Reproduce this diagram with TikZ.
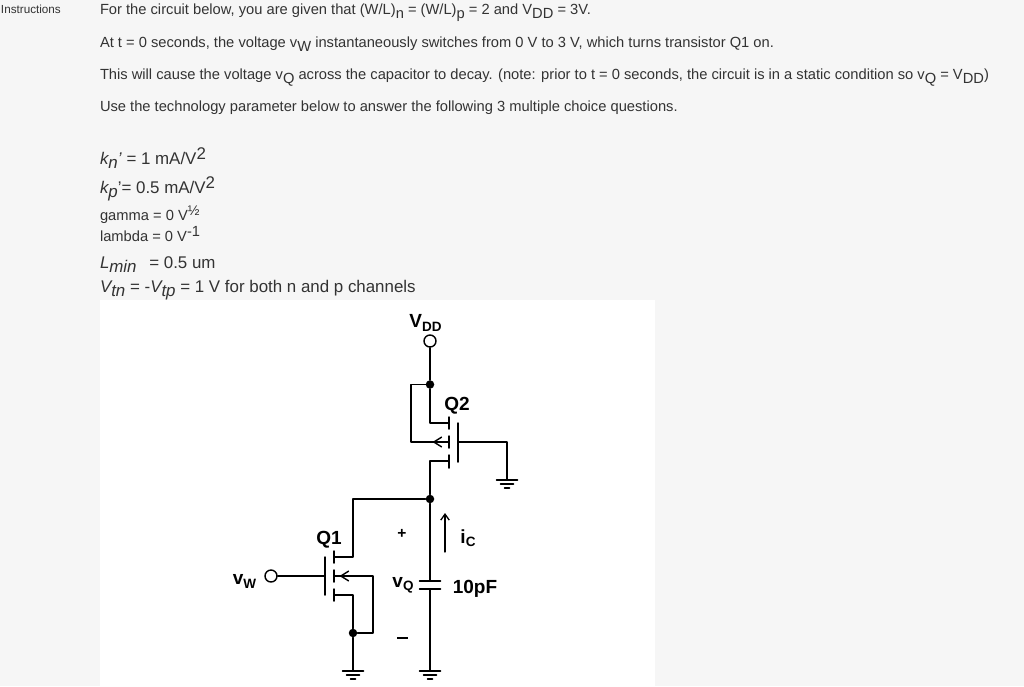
\documentclass[tikz,border=0pt]{standalone}
\usepackage{fontspec}
\setmainfont{Liberation Sans}
\usetikzlibrary{arrows.meta}
\definecolor{pagebg}{HTML}{F6F6F6}
\definecolor{ink}{HTML}{333333}
\newcommand{\dn}[1]{\raisebox{-4pt}{#1}}
\newcommand{\up}[1]{\raisebox{5pt}{#1}}
\newcommand{\sdn}[1]{\raisebox{-3.5pt}{\fontsize{13.5}{15}\selectfont\bfseries #1}}
\tikzset{
  x=1pt,y=-1pt,
  txt/.style={anchor=base west,inner sep=0pt,outer sep=0pt,text=ink,font=\fontsize{14.7}{16}\selectfont},
  bigtxt/.style={txt,font=\fontsize{16.9}{18}\selectfont},
  small/.style={txt,font=\fontsize{11.7}{13}\selectfont},
  wire/.style={draw=black,line width=1.5pt,line cap=round,line join=round},
  cir/.style={text=black,inner sep=0pt,font=\bfseries\fontsize{19}{21}\selectfont},
  term/.style={circle,draw=black,line width=1.4pt,fill=white,minimum size=12pt,inner sep=0pt},
  dotj/.style={circle,fill=black,minimum size=8.5pt,inner sep=0pt},
  barb/.style={wire,-{Straight Barb[length=8pt,width=10pt,line width=1.4pt]}},
  smallbarb/.style={wire,line width=1.3pt,-{Straight Barb[length=6pt,width=8.5pt,line width=1.3pt]}},
  pics/gnd/.style={code={
    \draw[wire] (-10.5,0) -- (10.5,0);
    \draw[wire] (-6.5,4) -- (6.5,4);
    \draw[wire] (-2.5,8) -- (2.5,8);
  }}
}
\begin{document}
\begin{tikzpicture}
\useasboundingbox (0,0) rectangle (1024,686);
\fill[pagebg] (0,0) rectangle (1024,686);
\fill[white] (100,300) rectangle (655,686);

\node[small] (ins) at (1,13) {Instructions};
\node[txt] (l1) at (100,14) {For the circuit below, you are given that (W/L)\dn{n} = (W/L)\dn{p} = 2 and V\dn{DD} = 3V.};
\node[txt] (l2) at (100,47) {At t = 0 seconds, the voltage v\dn{W} instantaneously switches from 0 V to 3 V, which turns transistor Q1 on.};
\node[txt] (l3) at (100,79) {This will cause the voltage v\dn{Q} across the capacitor to decay. (note: prior to t = 0 seconds, the circuit is in a static condition so v\dn{Q} = V\dn{DD})};
\node[txt] (l4) at (100,111) {Use the technology parameter below to answer the following 3 multiple choice questions.};

\node[bigtxt] (kn) at (100,164) {\textit{k\dn{n}’} = 1 mA/V\up{2}};
\node[bigtxt] (kp) at (100,193) {\textit{k\dn{p}}’= 0.5 mA/V\up{2}};
\node[txt] (ga) at (100,220) {gamma = 0 V\up{\fontsize{14}{15}\selectfont ½}};
\node[txt] (la) at (100,241) {lambda = 0 V\up{-1}};
\node[bigtxt] (lm) at (100,268) {\textit{L\dn{min}}\hspace{8pt} = 0.5 um};
\node[bigtxt] (vt) at (100,292) {\textit{V\dn{tn}} = -\textit{V\dn{tp}} = 1 V for both n and p channels};

\node[term] (vdd) at (430,341) {};
\node[dotj] (j1) at (430,384.5) {};
\node[dotj] (j2) at (430,499) {};
\node[dotj] (j3) at (353,633) {};
\node[term] (vw) at (271,576) {};
\coordinate (q2b) at (449,442);
\coordinate (q2g) at (458,442);
\coordinate (q2d) at (449,423);
\coordinate (q2s) at (449,461);
\coordinate (g2) at (507,480);
\coordinate (g1) at (353,671);
\coordinate (g3) at (430,671);
\coordinate (cu) at (430,581);
\coordinate (cl) at (430,589);
\coordinate (q1d) at (334,557);
\coordinate (q1s) at (334,595);
\coordinate (q1b) at (334,576);
\coordinate (q1g) at (325,576);

\draw[wire] (vdd) -- (j1) -- (j1 |- q2d) -- (q2d);
\draw[wire] (j1) -- (411,384.5) -- (411,442) -- (q2b);
\draw[barb] (437,442) -- (432.5,442);
\draw[wire] (449,417) -- (449,429);
\draw[wire] (449,436) -- (449,448);
\draw[wire] (449,455) -- (449,468);
\draw[wire] (458,423) -- (458,462);
\draw[wire] (q2g) -- (507,442) -- (g2);
\pic at (g2) {gnd};
\draw[wire] (q2s) -- (j2 |- q2s) -- (j2);
\draw[wire] (j2) -- (353,499) -- (353,557) -- (q1d);
\draw[wire] (334,551) -- (334,563);
\draw[wire] (334,570) -- (334,582);
\draw[wire] (334,589) -- (334,601);
\draw[wire] (325,557) -- (325,595);
\draw[wire] (vw) -- (q1g);
\draw[wire] (q1s) -- (353,595) -- (j3);
\draw[wire] (j3) -- (g1);
\draw[wire] (j3) -- (373,633) -- (373,576) -- (q1b);
\draw[barb] (344,576) -- (339.5,576);
\pic at (g1) {gnd};
\draw[wire] (j2) -- (cu);
\draw[wire] (cl) -- (g3);
\draw[wire] (419.5,581) -- (440.5,581);
\draw[wire] (419.5,589) -- (440.5,589);
\pic at (g3) {gnd};
\coordinate (ia) at (445,552);
\coordinate (ib) at (445,513);
\draw[smallbarb] (ia) -- (ib);

\node[cir] (lvdd) at (425.5,323) {V\sdn{DD}};
\node[cir] (lq2) at (457,405.5) {Q2};
\node[cir] (lq1) at (329,539.5) {Q1};
\node[cir] (lvw) at (244.5,581.5) {v\sdn{W}};
\node[cir] (lvq) at (403,585.5) {v\sdn{Q}};
\node[cir] (lic) at (468,538) {i\sdn{C}};
\node[cir] (lc) at (475,588.5) {10pF};
\node[cir,font=\bfseries\fontsize{15.5}{17}\selectfont] (lp) at (402,534) {+};
\node[fill=black,minimum width=10.5pt,minimum height=2pt,inner sep=0pt] (lm2) at (402.5,638) {};
\end{tikzpicture}
\end{document}
